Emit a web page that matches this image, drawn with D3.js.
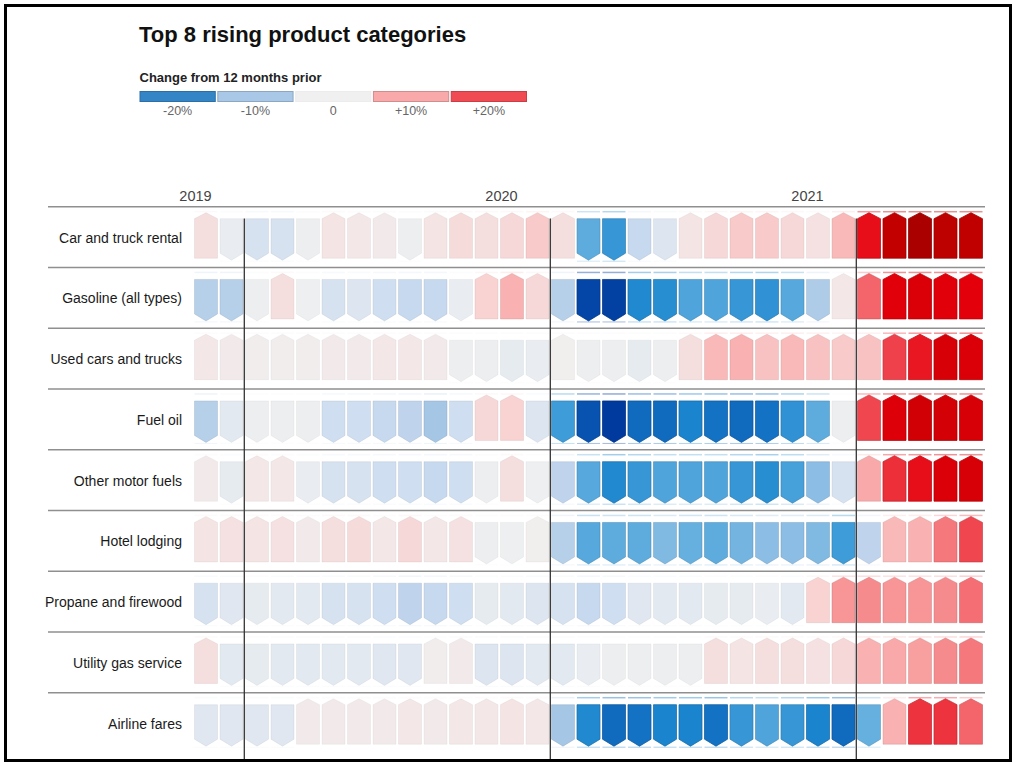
<!DOCTYPE html>
<html>
<head>
<meta charset="utf-8">
<script src="https://cdn.jsdelivr.net/npm/d3@7"></script>
<style>
  html, body { margin: 0; padding: 0; background: #fff; }
  svg { display: block; font-family: "Liberation Sans", Arial, sans-serif; }
</style>
</head>
<body>
<svg id="chart" width="1024" height="768"></svg>
<script>
// ── Data ──────────────────────────────────────────────────
// Change from 12 months prior (%), Jan 2019 … Jul 2021
var months = [
  "Jan 2019","Feb 2019","Mar 2019","Apr 2019","May 2019","Jun 2019",
  "Jul 2019","Aug 2019","Sep 2019","Oct 2019","Nov 2019","Dec 2019",
  "Jan 2020","Feb 2020","Mar 2020","Apr 2020","May 2020","Jun 2020",
  "Jul 2020","Aug 2020","Sep 2020","Oct 2020","Nov 2020","Dec 2020",
  "Jan 2021","Feb 2021","Mar 2021","Apr 2021","May 2021","Jun 2021",
  "Jul 2021"
];

var categories = [
  "Car and truck rental",
  "Gasoline (all types)",
  "Used cars and trucks",
  "Fuel oil",
  "Other motor fuels",
  "Hotel lodging",
  "Propane and firewood",
  "Utility gas service",
  "Airline fares"
];

var carTruckRental = [3, -1, -4, -4, -0.5, 2, 1.5, 1, -0.5, 2, 3.5, 3, 4, 6, 3,
  -16, -21, -6, -3, 2, 4, 6, 6, 4, 2.5, 8, 32, 60, 85, 65, 62];
var gasoline = [-8, -8, -0.5, 3, -0.3, -4, -3, -5, -6, -6, -1, 5, 9, 4, -8,
  -33, -34, -24, -23, -18, -18, -21, -22, -17, -9, 1.5, 17, 38, 42, 38, 36];
var usedCars = [1.5, 1, 0.5, 0.5, 0.5, 1, 1, 1.5, 1.5, 1, -0.5, -0.5, -1.5, -1, 0.3,
  -0.5, -0.5, -1.5, -0.5, 3, 8, 9, 7, 8, 7, 6, 7, 21, 30, 45, 42];
var fuelOil = [-8, -2, -0.5, -0.5, -0.5, -5, -5, -6, -7, -10, -5, 4, 5, -3, -20,
  -31, -37, -28, -28, -25, -27, -28, -27, -22, -16, -0.5, 20, 40, 50, 48, 45];
var otherMotorFuels = [1, -1.5, 1.5, 1.5, -1, -4, -4, -5, -5, -6, -5, -0.5, 3, -0.3, -7,
  -17, -24, -21, -18, -18, -18, -21, -23, -19, -12, -4, 10, 25, 32, 42, 44];
var hotelLodging = [2, 2.5, 2, 2.5, 1, 3, 3.5, 1.5, 4, 1.5, 2.5, -0.5, -0.3, 0.3, -8,
  -17, -16, -16, -13, -15, -16, -14, -12, -12, -13, -20, -7, 8, 9, 15, 20];
var propaneFirewood = [-4, -2.5, -1.5, -2, -2, -4, -4, -5, -7, -6, -5, -1.5, -2, -3, -4,
  -6, -5, -2.5, -2, -2, -1.5, -1.5, -1, -2, 5, 12, 13, 12, 12, 13, 16];
var utilityGas = [3, -2, -1.5, -2, -2, -2, -2, -2.5, -2.5, 0.5, 1, -3, -3, -2, -2,
  -1, -0.5, -0.5, -0.5, -0.5, 3, 2, 3, 3, 2.5, 4, 9, 10, 11, 13, 15];
var airlineFares = [-2.5, -2.5, -2.5, -2.5, 1, 1, 1, 1, 1.5, 1, 1.5, 1.5, 2, 1.5, -10,
  -24, -28, -27, -25, -25, -27, -21, -18, -21, -25, -28, -15, 9, 24, 24, 17];

var series = [carTruckRental, gasoline, usedCars, fuelOil, otherMotorFuels,
  hotelLodging, propaneFirewood, utilityGas, airlineFares];

var yearMonths  = ["Jan 2019", "Jan 2020", "Jan 2021"];
var yearLabels  = ["2019", "2020", "2021"];
var markerMonths = ["Mar 2019", "Mar 2020", "Mar 2021"];

var legendValues = [-20, -10, 0, 10, 20];
var legendLabels = ["-20%", "-10%", "0", "+10%", "+20%"];

// ── Scales ────────────────────────────────────────────────

var color = d3.scaleLinear()
  .domain([-35, -30, -25, -20, -15, -10, -5, 0, 5, 10, 20, 35, 60, 90])
  .range(["#003a9e", "#0a58b4", "#1a84ce", "#3e9cd8", "#66b0e0", "#a6c6e6", "#cfdef0",
          "#f0f0f0", "#f9d2d2", "#f9a9a9", "#f04650", "#e5000b", "#c20000", "#a50000"])
  .interpolate(d3.interpolateRgb)
  .clamp(true);

var x = d3.scaleBand()
  .domain(months)
  .range([194.5, 982.5])
  .paddingInner(0.098)
  .paddingOuter(0);

var y = d3.scaleBand()
  .domain(categories)
  .range([206.7, 206.7 + 60.75 * categories.length]);

var svg = d3.select("#chart");

// ── Title & legend ────────────────────────────────────────

svg.append("text")
  .attr("x", 139).attr("y", 42)
  .style("font-size", "22px").style("font-weight", "bold")
  .attr("fill", "#111")
  .text("Top 8 rising product categories");

svg.append("text")
  .attr("x", 139.5).attr("y", 82)
  .style("font-size", "13px").style("font-weight", "bold")
  .attr("fill", "#222")
  .text("Change from 12 months prior");

var lx = d3.scaleBand()
  .domain(legendValues)
  .range([139.5, 527])
  .paddingInner(0.02);

var legendColor = d3.scaleOrdinal()
  .domain(legendValues)
  .range(["#3385c6", "#a9c8e8", "#f0f0f0", "#f9a9a9", "#f04a52"]);

legendValues.forEach(function(v, i) {
  svg.append("rect")
    .attr("x", lx(v) + 0.5).attr("y", 91.5)
    .attr("width", lx.bandwidth() - 1).attr("height", 10)
    .attr("fill", legendColor(v))
    .attr("stroke", v === 0 ? "#ececec" : d3.color(legendColor(v)).darker(0.5))
    .attr("stroke-width", 1);
  svg.append("text")
    .attr("x", lx(v) + lx.bandwidth() / 2).attr("y", 115)
    .attr("text-anchor", "middle")
    .style("font-size", "12.5px")
    .attr("fill", "#666")
    .text(legendLabels[i]);
});

// ── Year labels, row lines ────────────────────────────────

yearMonths.forEach(function(m, i) {
  svg.append("text")
    .attr("x", x(m) + 1).attr("y", 201)
    .attr("text-anchor", "middle")
    .style("font-size", "14.5px")
    .attr("fill", "#444")
    .text(yearLabels[i]);
});

categories.forEach(function(c) {
  svg.append("line")
    .attr("x1", 48).attr("x2", 985)
    .attr("y1", y(c)).attr("y2", y(c))
    .attr("stroke", "#8f8f8f").attr("stroke-width", 1.5);

  svg.append("text")
    .attr("x", 182).attr("y", y(c) + 36)
    .attr("text-anchor", "end")
    .style("font-size", "14px")
    .attr("fill", "#1a1a1a")
    .text(c);
});

// ── Cells ─────────────────────────────────────────────────

var w = x.bandwidth();

function cellPath(x0, y0, v) {
  if (v >= 0) {
    return "M" + x0 + "," + (y0 + 12) +
      "L" + (x0 + w / 2) + "," + (y0 + 6) +
      "L" + (x0 + w) + "," + (y0 + 12) +
      "L" + (x0 + w) + "," + (y0 + 51.5) +
      "L" + x0 + "," + (y0 + 51.5) + "Z";
  }
  return "M" + x0 + "," + (y0 + 12) +
    "L" + (x0 + w) + "," + (y0 + 12) +
    "L" + (x0 + w) + "," + (y0 + 46.5) +
    "L" + (x0 + w / 2) + "," + (y0 + 53.5) +
    "L" + x0 + "," + (y0 + 46.5) + "Z";
}

categories.forEach(function(c, ri) {
  var y0 = y(c);
  series[ri].forEach(function(v, ci) {
    var x0 = x(months[ci]);
    var fill = color(v);
    var strength = Math.min(Math.abs(v) / 25, 1);

    // faint guide strokes at the top (and bottom for falling cells)
    svg.append("line")
      .attr("x1", x0).attr("x2", x0 + w)
      .attr("y1", y0 + 5).attr("y2", y0 + 5)
      .attr("stroke", fill).attr("stroke-width", 1.5)
      .attr("opacity", 0.12 + 0.3 * strength);
    if (v < 0) {
      svg.append("line")
        .attr("x1", x0).attr("x2", x0 + w)
        .attr("y1", y0 + 54.5).attr("y2", y0 + 54.5)
        .attr("stroke", fill).attr("stroke-width", 1)
        .attr("opacity", 0.1 + 0.25 * strength);
    }

    svg.append("path")
      .attr("d", cellPath(x0, y0, v))
      .attr("fill", fill)
      .attr("stroke", d3.color(fill).darker(0.6))
      .attr("stroke-opacity", 0.15 + 0.6 * strength)
      .attr("stroke-width", 1);
  });
});

// ── Marker lines (March of each year) ─────────────────────

markerMonths.forEach(function(m) {
  var lxPos = x(m) - 1.2;
  svg.append("line")
    .attr("x1", lxPos).attr("x2", lxPos)
    .attr("y1", 218.5).attr("y2", 759)
    .attr("stroke", "#333").attr("stroke-width", 1.3);
});

// ── Frame ─────────────────────────────────────────────────

svg.append("rect")
  .attr("x", 5.5).attr("y", 5.5)
  .attr("width", 1005).attr("height", 755)
  .attr("fill", "none")
  .attr("stroke", "#000").attr("stroke-width", 3);
</script>
</body>
</html>
